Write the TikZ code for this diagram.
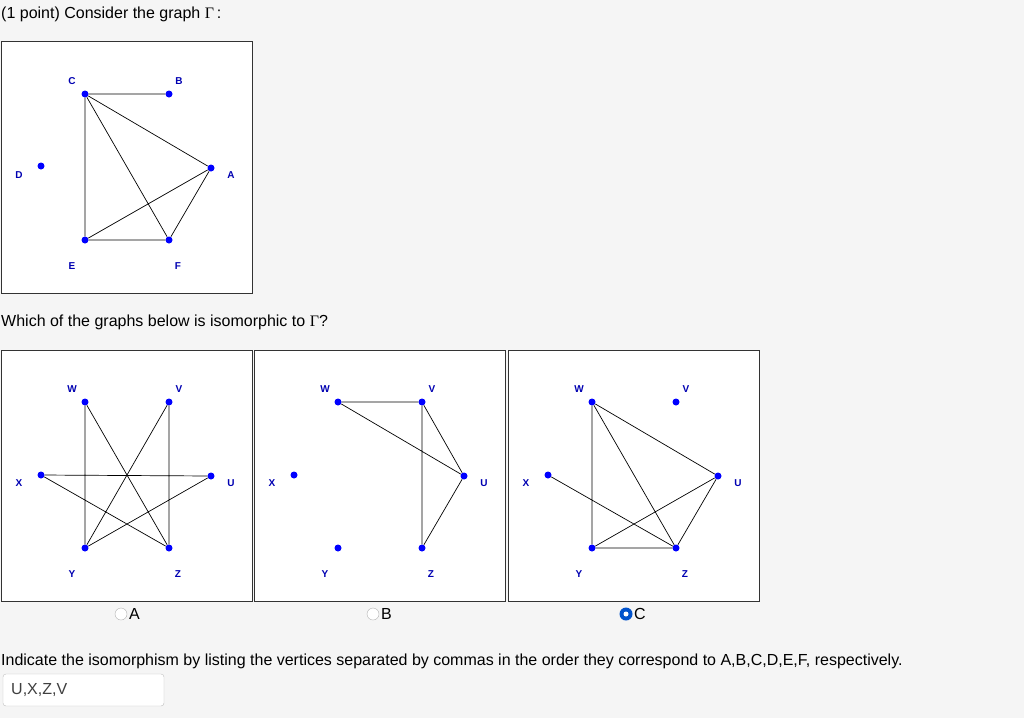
\documentclass[tikz,border=0pt]{standalone}
\usepackage{fontspec}
\setmainfont{Liberation Sans}
\newfontfamily\serifg{Liberation Serif}
\begin{document}
\begin{tikzpicture}[x=1pt,y=-1pt,
 v/.style={circle,fill=blue,inner sep=0pt,minimum size=7pt},
 lb/.style={font=\fontsize{10}{11}\selectfont\bfseries,text=blue!70!black,inner sep=0pt},
 e/.style={draw=black,line width=0.7pt},
 panel/.style={draw=black!80,fill=white,line width=0.8pt},
 txt/.style={anchor=west,inner sep=0pt,font=\fontsize{16}{18}\selectfont}]
\fill[black!4] (0,0) rectangle (1024,718);
\useasboundingbox (0,0) rectangle (1024,718);
\node[txt] (t1) at (1,14) {(1 point) Consider the graph {\serifg Γ}\,:};
\draw[panel] (1,41) rectangle (252,293);
\node[v] (C) at (85,94) {}; \node[v] (B) at (169,94) {}; \node[v] (A) at (211,168) {};
\node[v] (D) at (41,166) {}; \node[v] (E) at (85,240) {}; \node[v] (F) at (169,240) {};
\draw[e] (C)--(B) (C)--(E) (C)--(A) (C)--(F) (A)--(E) (A)--(F) (E)--(F);
\node[lb] at (72,81) {C}; \node[lb] at (179,81) {B}; \node[lb] at (231,175) {A};
\node[lb] at (19,175) {D}; \node[lb] at (72,266) {E}; \node[lb] at (178,266) {F};
\node[txt] (t2) at (1,322) {Which of the graphs below is isomorphic to {\serifg Γ}?};
\foreach \dx/\p in {0/a,253/b,507/c}{
 \begin{scope}[xshift=\dx]
 \draw[panel] (1,350) rectangle (252,601);
 \node[v] (\p W) at (85,402) {}; \node[v] (\p V) at (169,402) {};
 \node[v] (\p X) at (41,475) {}; \node[v] (\p U) at (211,476) {};
 \node[v] (\p Y) at (85,548) {}; \node[v] (\p Z) at (169,548) {};
 \node[lb] at (72,389) {W}; \node[lb] at (179,389) {V}; \node[lb] at (19,483) {X};
 \node[lb] at (231,483) {U}; \node[lb] at (72,574) {Y}; \node[lb] at (178,574) {Z};
 \end{scope}}
\draw[e] (aW)--(aY) (aW)--(aZ) (aV)--(aY) (aV)--(aZ) (aX)--(aU) (aX)--(aZ) (aU)--(aY);
\draw[e] (bW)--(bV) (bW)--(bU) (bV)--(bU) (bV)--(bZ) (bU)--(bZ);
\draw[e] (cW)--(cY) (cW)--(cU) (cW)--(cZ) (cX)--(cZ) (cY)--(cU) (cY)--(cZ) (cU)--(cZ);
\node[circle,draw=black!30,fill=white,minimum size=12pt,inner sep=0pt] (rA) at (121,614) {};
\node[txt] at (129,614) {A};
\node[circle,draw=black!30,fill=white,minimum size=12pt,inner sep=0pt] (rB) at (373,614) {};
\node[txt] at (381,614) {B};
\node[circle,fill=blue!60!cyan!80!black,minimum size=13pt,inner sep=0pt] (rC) at (626,614) {};
\node[circle,fill=white,minimum size=5pt,inner sep=0pt] at (rC) {};
\node[txt] at (634,614) {C};
\node[txt] (t3) at (1,661) {Indicate the isomorphism by listing the vertices separated by commas in the order they correspond to A,B,C,D,E,F, respectively.};
\draw[black!25,fill=white,rounded corners=3pt] (3,674) rectangle (164,706);
\node[txt,text=black!75] (ans) at (11,690) {U,X,Z,V};
\end{tikzpicture}
\end{document}
